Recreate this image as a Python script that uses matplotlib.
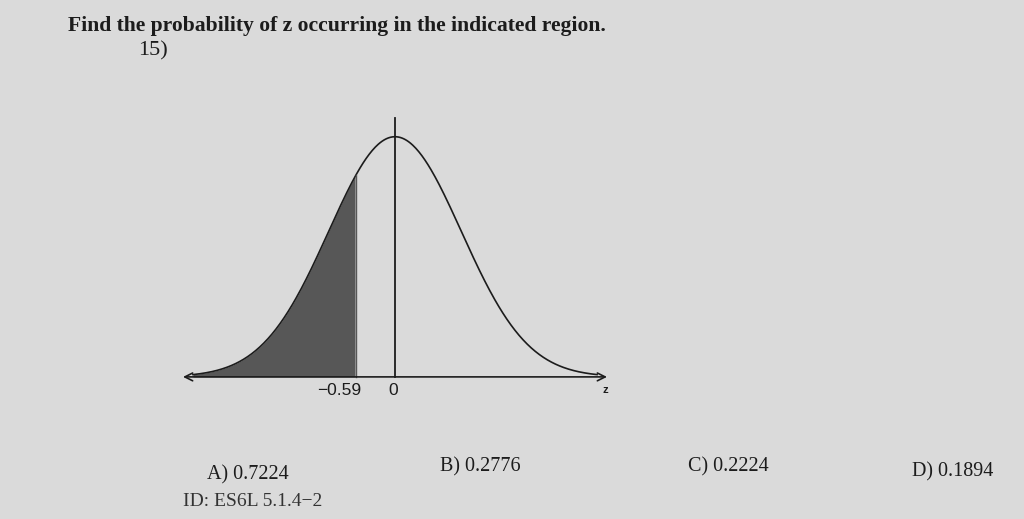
import matplotlib.pyplot as plt
import numpy as np

# data for the region
z_cut = -0.59
z_min, z_max = -3.05, 3.05
tick_pos = [-0.59, 0]
tick_labels = ["\u22120.59", "0"]
answers = ["A) 0.7224", "B) 0.2776", "C) 0.2224", "D) 0.1894"]
answer_x = [207, 440, 688, 912]
answer_y = [475, 467, 467, 472]

paper = "#dadada"
ink = "#1c1c1c"

fig = plt.figure(figsize=(10.24, 5.19), dpi=100, facecolor=paper)

# axes placed so that z=-3.2..3.2 spans the drawn number line
W, H = 1024, 519
x0, x1 = 183, 607
ytop, ybot = 112, 407
ax = fig.add_axes([x0 / W, (H - ybot) / H, (x1 - x0) / W, (ybot - ytop) / H])
ax.set_xlim(-3.2, 3.2)
ax.set_ylim(-0.05, 0.44)
ax.axis("off")
ax.set_facecolor("none")

z = np.linspace(z_min, z_max, 400)
pdf = np.exp(-z ** 2 / 2) / np.sqrt(2 * np.pi)
ax.plot(z, pdf, color=ink, lw=1.2)

zs = z[z <= z_cut]
ax.fill_between(zs, 0, np.exp(-zs ** 2 / 2) / np.sqrt(2 * np.pi),
                color="#575757", lw=0)
ax.plot([z_cut, z_cut], [0, np.exp(-z_cut ** 2 / 2) / np.sqrt(2 * np.pi)],
        color="#575757", lw=1)

# number line with arrows both ends
ax.annotate("", xy=(-3.2, 0), xytext=(3.2, 0),
            arrowprops=dict(arrowstyle="<->", color=ink, lw=1.2,
                            mutation_scale=14, shrinkA=0, shrinkB=0))
ax.plot([0, 0], [0, 0.43], color=ink, lw=1.3)

for p, lab in zip(tick_pos, tick_labels):
    ax.text(p - (0.26 if p < 0 else 0.03), -0.022, lab, ha="center", va="center",
            fontsize=12.5, family="Liberation Sans", color=ink)
ax.text(3.18, -0.022, "z", ha="center", va="center", fontsize=8,
        family="Liberation Sans", fontweight="bold", color=ink)

serif = "Liberation Serif"
fig.text(68 / W, 1 - 26 / H, "Find the probability of z occurring in the indicated region.",
         ha="left", va="center", fontsize=15.6, fontweight="bold", family=serif, color=ink)
fig.text(138 / W, 1 - 51 / H, "15)", ha="left", va="center", fontsize=16,
         family=serif, color=ink)

for txt, xa, ya in zip(answers, answer_x, answer_y):
    fig.text(xa / W, 1 - ya / H, txt, ha="left", va="center", fontsize=14.5,
             family=serif, color=ink)
fig.text(183 / W, 1 - 502 / H, "ID: ES6L 5.1.4\u22122", ha="left", va="center",
         fontsize=14, family=serif, color="#333333")

fig.savefig("out.png", dpi=100, facecolor=paper)
